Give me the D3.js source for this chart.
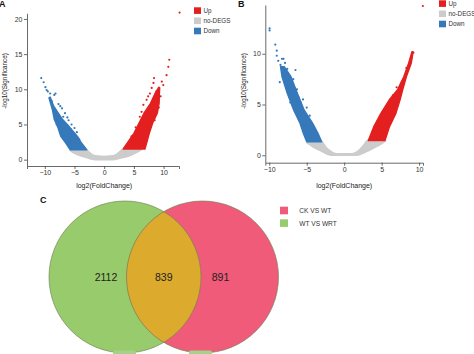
<!DOCTYPE html>
<html lang="en">
<head>
<meta charset="UTF-8">
<title>Volcano plots and Venn diagram</title>
<script src="https://d3js.org/d3.v7.min.js"></script>
<style>
    body { margin: 0; background: #fff; }
    svg { display: block; font-family: "Liberation Sans", Arial, sans-serif; }
    .axis path, .axis line { stroke: #444; stroke-width: 0.8; }
    .axis text { fill: #333; font-size: 7px; }
    .lab { fill: #222; }
</style>
</head>
<body>
<svg id="chart" width="474" height="354"></svg>
<script>
// ---- legend / categories
const groups = ["Up", "no-DEGS", "Down"];
const groupColors = ["#e3201f", "#cccccc", "#3579bb"];

// ---- panel A
// gray band: [log2FC, low, high]
const aGray = [[-5.7,1.3,1.4],[-5,0.9,1.4],[-4,0.55,1.4],[-3,0.3,1.4],[-2.5,0.18,1.05],[-2,0.08,0.72],
               [-1,0,0.5],[0,0,0.45],[1,0,0.5],[2,0.08,0.72],[2.5,0.18,1.05],[3.2,0.32,1.5],
               [4,0.5,1.5],[5,0.85,1.5],[6.3,1.45,1.5]];
// dense clouds outline: [log2FC, -log10]
const aDownCloud = [[-5.72,1.4],[-6.5,2.4],[-7.3,3.3],[-7.85,4.7],[-8.4,5.7],[-8.7,7.0],[-9.3,8.8],
                    [-9.1,8.9],[-8.5,7.6],[-7.0,5.7],[-5.9,4.7],[-4.5,3.3],[-3.85,2.4],[-2.91,1.4]];
const aUpCloud = [[3.2,1.52],[5.0,3.75],[5.85,5.18],[6.7,6.6],[7.8,8.0],[8.6,9.45],[9.2,10.3],
                  [9.35,10.2],[9.3,9.45],[9.25,8.0],[8.95,6.6],[8.15,5.18],[7.6,3.75],[6.87,1.52]];
const aDownPts = [[-10.6,11.6],[-10.2,11.0],[-9.9,10.3],[-9.7,9.9],[-9.5,9.7],[-9.1,9.4],[-8.2,9.4],
                  [-8.4,9.2],[-7.7,7.9],[-7.4,7.6],[-7.1,7.3],[-6.6,6.6],[-6.2,6.0],[-6.0,5.6],
                  [-5.5,5.0],[-5.0,4.5],[-4.6,3.9],[-8.8,8.3],[-8.3,7.0],[-7.6,6.2],[-6.9,6.1],
                  [-5.6,4.3],[-4.2,2.9],[-8.0,5.0]];
const aUpPts = [[12.7,20.9],[10.96,14.2],[10.8,13.2],[10.5,12.0],[8.4,11.6],[8.3,10.9],[9.7,11.1],
                [9.95,10.6],[8.0,10.2],[8.8,9.7],[7.7,9.4],[7.4,9.0],[7.15,8.5],[6.6,7.8],
                [6.3,6.8],[6.9,6.6],[6.0,6.1],[9.5,9.0],[9.2,7.4],[5.3,4.6],[4.6,3.3],[8.5,5.6]];
const aXTicks = [-10, -5, 0, 5, 10];
const aYTicks = [0, 5, 10, 15, 20];

// ---- panel B
const bGray = [[-5.0,1.25,1.35],[-4.5,1.0,1.35],[-4.0,0.75,1.35],[-3.0,0.4,1.35],[-2.5,0.2,0.85],
               [-2.0,0.05,0.5],[-1.5,0,0.25],[-1,0,0.15],[0,0,0.15],[1,0,0.15],[1.5,0,0.25],
               [2,0.05,0.5],[2.5,0.2,0.9],[3.2,0.45,1.5],[4.0,0.75,1.5],[5.0,1.15,1.5],[5.5,1.4,1.5]];
const bDownCloud = [[-5.0,1.34],[-5.46,2.17],[-5.9,3.15],[-6.75,4.46],[-7.6,6.1],[-8.3,7.74],[-8.5,8.72],
                    [-8.0,8.72],[-7.1,7.74],[-6.25,6.1],[-5.35,4.46],[-4.2,3.15],[-3.5,2.17],[-3.0,1.34]];
const bUpCloud = [[3.22,1.45],[3.95,2.82],[4.9,4.13],[6.0,5.44],[7.1,6.43],[7.95,7.74],[8.6,9.06],
                  [9.05,10.2],[9.2,10.2],[8.95,9.06],[8.3,7.74],[7.8,6.43],[7.45,5.44],[6.9,4.13],
                  [6.05,2.82],[5.45,1.45]];
const bDownPts = [[-9.96,12.3],[-9.96,12.5],[-9.2,10.9],[-9.0,10.3],[-9.0,9.8],[-8.8,9.3],[-8.3,9.5],
                  [-8.1,9.5],[-7.9,9.1],[-8.5,8.9],[-6.5,8.4],[-6.8,7.5],[-6.3,6.5],[-6.1,5.7],
                  [-5.8,5.2],[-5.5,5.5],[-5.0,4.7],[-4.6,3.9],[-7.6,8.5],[-7.0,6.9],[-5.2,3.6],
                  [-3.9,2.6],[-8.6,7.2],[-7.2,5.2]];
const bUpPts = [[10.5,14.7],[9.24,10.1],[9.0,9.6],[7.0,6.7],[7.5,6.2],[6.5,5.9],[6.1,5.4],[5.6,4.8],
                [5.2,4.2],[5.0,3.6],[4.4,3.3],[4.6,2.8],[8.3,8.6],[7.7,7.2],[6.7,5.1],[3.8,2.3]];
const bXTicks = [-10, -5, 0, 5, 10];
const bYTicks = [0, 5, 10];

// ---- panel C
const vennSets = ["WT VS WRT", "CK VS WT"];
const vennColors = ["#98cb6b", "#ef5b79"];
const vennOverlapColor = "#dcaa2c";
const vennCounts = [2112, 839, 891];   // left only, both, right only
const vennLegend = ["CK VS WT", "WT VS WRT"];
const vennLegendColors = ["#ef5b79", "#98cb6b"];

const svg = d3.select("#chart");

function volcano(p) {
    const g = svg.append("g");
    const x = d3.scaleLinear().domain(p.xDomain).range(p.xRange);
    const y = d3.scaleLinear().domain(p.yDomain).range(p.yRange);

    g.append("g").attr("class", "axis")
        .attr("transform", `translate(0,${p.yRange[0]})`)
        .call(d3.axisBottom(x).tickValues(p.xTicks).tickSize(3).tickSizeOuter(3).tickPadding(1.5))
        .attr("font-family", null).attr("font-size", null);
    g.append("g").attr("class", "axis")
        .attr("transform", `translate(${p.xRange[0]},0)`)
        .call(d3.axisLeft(y).tickValues(p.yTicks).tickSize(3).tickSizeOuter(0).tickPadding(1.5))
        .attr("font-family", null).attr("font-size", null);

    const band = d3.area().x(d => x(d[0])).y0(d => y(d[1])).y1(d => y(d[2])).curve(d3.curveMonotoneX);
    g.append("path").datum(p.gray).attr("d", band)
        .attr("fill", groupColors[1]).attr("stroke", groupColors[1]).attr("stroke-width", 1.6)
        .attr("stroke-linejoin", "round");

    const outline = d3.line().x(d => x(d[0])).y(d => y(d[1])).curve(d3.curveLinearClosed);
    [[p.down, groupColors[2]], [p.up, groupColors[0]]].forEach(([cloud, c]) => {
        g.append("path").datum(cloud).attr("d", outline)
            .attr("fill", c).attr("stroke", c).attr("stroke-width", 1.4).attr("stroke-linejoin", "round");
    });

    [[p.downPts, groupColors[2]], [p.upPts, groupColors[0]]].forEach(([pts, c]) => {
        g.selectAll(null).data(pts).enter().append("circle")
            .attr("cx", d => x(d[0])).attr("cy", d => y(d[1])).attr("r", 1.1).attr("fill", c);
    });

    g.append("text").attr("class", "lab").attr("x", x(0)).attr("y", 187.5)
        .attr("text-anchor", "middle").attr("font-size", 7).text("log2(FoldChange)");
    g.append("text").attr("class", "lab")
        .attr("transform", `translate(${p.yLabX},${p.yLabY}) rotate(-90)`)
        .attr("text-anchor", "middle").attr("font-size", 6.3).text("-log10(Significance)");

    g.append("text").attr("x", p.tagX).attr("y", 7).attr("font-weight", "bold")
        .attr("font-size", 9).attr("fill", "#111").text(p.tag);

    const leg = g.append("g").selectAll("g").data(groups).enter().append("g")
        .attr("transform", (d, i) => `translate(${p.legX},${p.legY + i * 10.2})`);
    leg.append("rect").attr("width", 7).attr("height", 6.6).attr("fill", (d, i) => groupColors[i]);
    leg.append("text").attr("x", 9.5).attr("y", 5.6).attr("font-size", 6.3).attr("fill", "#333").text(d => d);
}

volcano({
    tag: "A", tagX: -1,
    xDomain: [-13, 12.6], xRange: [27, 179],
    yDomain: [-0.9, 20.8], yRange: [166, 13.3],
    xTicks: aXTicks, yTicks: aYTicks,
    gray: aGray, down: aDownCloud, up: aUpCloud, downPts: aDownPts, upPts: aUpPts,
    yLabX: 7, yLabY: 81, legX: 194, legY: 7.3
});
volcano({
    tag: "B", tagX: 238,
    xDomain: [-10.53, 10.52], xRange: [265.3, 423],
    yDomain: [-0.73, 14.8], yRange: [162.7, 5],
    xTicks: bXTicks, yTicks: bYTicks,
    gray: bGray, down: bDownCloud, up: bUpCloud, downPts: bDownPts, upPts: bUpPts,
    yLabX: 245.5, yLabY: 81, legX: 439, legY: 0.3
});

// ---- Venn
const vennR = 76, vennCY = 277;
const vennCX = [125, 202.5];
const vg = svg.append("g");
vg.append("defs").append("clipPath").attr("id", "clipRight")
    .append("circle").attr("cx", vennCX[1]).attr("cy", vennCY).attr("r", vennR);

vennSets.forEach((s, i) => {
    vg.append("circle").attr("cx", vennCX[i]).attr("cy", vennCY).attr("r", vennR).attr("fill", vennColors[i]);
});
vg.append("circle").attr("cx", vennCX[0]).attr("cy", vennCY).attr("r", vennR)
    .attr("fill", vennOverlapColor).attr("clip-path", "url(#clipRight)");
vennSets.forEach((s, i) => {
    vg.append("circle").attr("cx", vennCX[i]).attr("cy", vennCY).attr("r", vennR)
        .attr("fill", "none").attr("stroke", "#6f7f55").attr("stroke-width", 0.8).attr("stroke-opacity", 0.8);
});

const countX = [vennCX[0] - 19, (vennCX[0] + vennCX[1]) / 2, vennCX[1] + 18];
vg.selectAll(null).data(vennCounts).enter().append("text")
    .attr("x", (d, i) => countX[i]).attr("y", vennCY + 4)
    .attr("text-anchor", "middle").attr("font-size", 10.5).attr("fill", "#222")
    .text(d => d);

// green marks cut off at the bottom edge, under each circle
vg.selectAll(null).data(vennSets).enter().append("rect")
    .attr("x", (d, i) => [113, 189][i]).attr("y", 350.5)
    .attr("width", 23).attr("height", 6).attr("rx", 2)
    .attr("fill", "#a6d18a");

vg.append("text").attr("x", 40).attr("y", 203).attr("font-weight", "bold")
    .attr("font-size", 9).attr("fill", "#111").text("C");

const vleg = vg.append("g").selectAll("g").data(vennLegend).enter().append("g")
    .attr("transform", (d, i) => `translate(280,${206.7 + i * 12.6})`);
vleg.append("rect").attr("width", 8).attr("height", 7.6).attr("fill", (d, i) => vennLegendColors[i]);
vleg.append("text").attr("x", 19.3).attr("y", 6.3).attr("font-size", 6.6).attr("fill", "#333").text(d => d);
</script>
</body>
</html>
